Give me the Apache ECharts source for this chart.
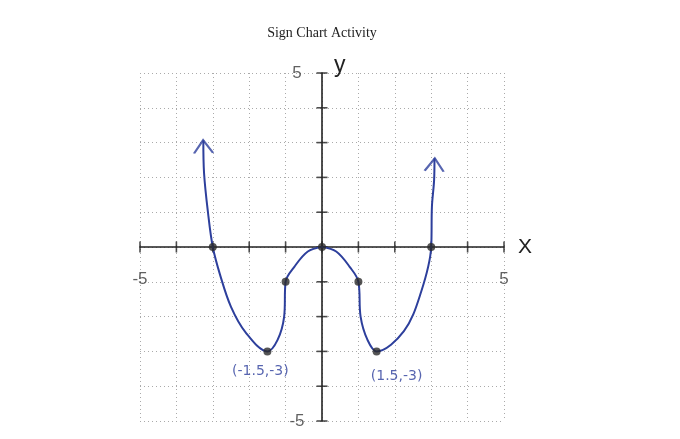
<!DOCTYPE html>
<html><head><meta charset="utf-8">
<script src="https://cdn.jsdelivr.net/npm/echarts@6/dist/echarts.min.js"></script>
<style>html,body{margin:0;padding:0;background:#fff}#c{width:680px;height:439px}</style>
</head><body><div id="c"></div>
<script>
var titleText = 'Sign Chart Activity';
var xTicks = [-5,-4,-3,-2,-1,0,1,2,3,4,5];
var yTicks = [-5,-4,-3,-2,-1,0,1,2,3,4,5];
var xTickLabels = [{v:-5, t:'-5'},{v:5, t:'5'}];
var yTickLabels = [{v:5, t:'5'},{v:-5, t:'-5'}];
// hand-traced curve
var curveLeft = [[-3.26,3.07],[-3.24,2.12],[-3.13,0.97],[-3,0],[-2.8,-0.8],[-2.5,-1.72],[-2.1,-2.45],[-1.5,-3],[-1.22,-2.67],[-1.04,-2.0],[-1,-1],[-0.76,-0.57],[-0.39,-0.13],[0,0]];
var curveRight = [[0,0],[0.39,-0.13],[0.76,-0.57],[1,-1],[1.06,-2.0],[1.25,-2.67],[1.5,-3],[2.25,-2.42],[2.72,-1.3],[3,0],[3.02,1.16],[3.08,1.93],[3.09,2.55]];
var keyPoints = [[-3,0],[-1,-1],[0,0],[1,-1],[-1.5,-3],[1.5,-3],[3,0]];
var labelPoints = [{value:[-1.5,-3], name:'(-1.5,-3)', off:[-7,8]},{value:[1.5,-3], name:'(1.5,-3)', off:[20,13]}];
var arrowTips = [{value:[-3.26,3.07], rot:2},{value:[3.09,2.55], rot:-3}];

var blue = '#2d3f9c';
var tickFont = {fontFamily:'Liberation Sans',fontSize:17,color:'#3a3a3a'};
var chart = echarts.init(document.getElementById('c'));
chart.setOption({
  animation:false,
  title:{text:titleText,left:317,top:21,textAlign:'center',textStyle:{fontFamily:'Liberation Serif',fontSize:14,fontWeight:'normal',color:'#222'}},
  grid:{left:140,right:176,top:73,bottom:18,containLabel:false,outerBoundsMode:'none'},
  xAxis:{type:'value',min:-5,max:5,interval:1,
    name:'X',nameLocation:'end',nameGap:14,nameTextStyle:{fontFamily:'Liberation Sans',fontSize:21,color:'#222',verticalAlign:'middle'},
    axisLine:{onZero:true,lineStyle:{color:'#222',width:1.6}},
    axisTick:{show:false},
    axisLabel:{show:false},
    splitLine:{show:true,lineStyle:{type:[1,3],color:'#aaa',width:1}}},
  yAxis:{type:'value',min:-5,max:5,interval:1,
    name:'y',nameLocation:'end',nameGap:-4,nameTextStyle:{fontFamily:'Liberation Sans',fontSize:23,color:'#222',align:'left',verticalAlign:'bottom',padding:[0,0,0,12]},
    axisLine:{onZero:true,lineStyle:{color:'#222',width:1.6}},
    axisTick:{show:false},
    axisLabel:{show:false},
    splitLine:{show:true,lineStyle:{type:[1,3],color:'#aaa',width:1}}},
  series:[
    {type:'scatter',data:xTicks.map(function(v){return [v,0];}),symbol:'rect',symbolSize:[1.6,11],itemStyle:{color:'#222'},silent:true,z:3},
    {type:'scatter',data:yTicks.map(function(v){return [0,v];}),symbol:'rect',symbolSize:[11,1.6],itemStyle:{color:'#222'},silent:true,z:3},
    {type:'scatter',data:xTickLabels.map(function(o){return {value:[o.v,0],name:o.t};}),symbolSize:0,silent:true,
      label:Object.assign({show:true,position:'inside',formatter:'{b}',offset:[0,32]},tickFont),z:3},
    {type:'scatter',data:yTickLabels.map(function(o){return {value:[0,o.v],name:o.t};}),symbolSize:0,silent:true,
      label:Object.assign({show:true,position:'inside',formatter:'{b}',offset:[-25,0]},tickFont),z:3},
    {type:'line',data:curveLeft,smooth:0.35,showSymbol:false,symbol:'none',lineStyle:{color:blue,width:2},z:4},
    {type:'line',data:curveRight,smooth:0.35,showSymbol:false,symbol:'none',lineStyle:{color:blue,width:2},z:4},
    {type:'scatter',data:arrowTips.map(function(a){return {value:a.value,symbolRotate:a.rot};}),
      symbol:'path://M0,12 L7,0 L14,12',symbolSize:[19,13],symbolOffset:[0,'50%'],symbolKeepAspect:false,
      itemStyle:{color:'rgba(0,0,0,0)',borderColor:blue,borderWidth:2},z:5},
    {type:'scatter',data:keyPoints,symbolSize:8,itemStyle:{color:'#2a2a2a'},z:6},
    {type:'scatter',data:labelPoints.map(function(p){return {value:p.value,name:p.name,label:{offset:p.off}};}),
      symbolSize:0,
      label:{show:true,position:'bottom',formatter:'{b}',fontFamily:'DejaVu Sans',fontSize:14,color:blue},z:7}
  ]
});
</script></body></html>
